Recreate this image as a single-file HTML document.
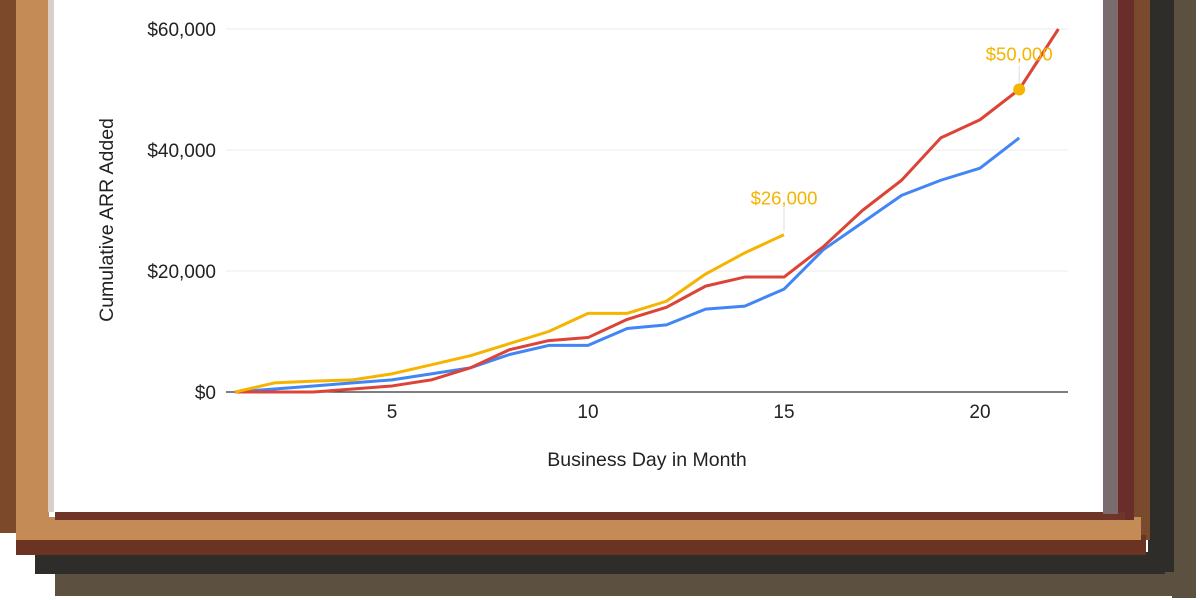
<!DOCTYPE html>
<html><head><meta charset="utf-8"><style>
body{margin:0;width:1200px;height:600px;overflow:hidden;background:#fff;font-family:"Liberation Sans",Arial,sans-serif}
.r{position:absolute}
</style></head><body>
<div class="r" style="left:1172px;top:0;width:24px;height:598px;background:#5c5040"></div>
<div class="r" style="left:1148px;top:0;width:26px;height:580px;background:#2f2d29"></div>
<div class="r" style="left:55px;top:572px;width:1125px;height:24px;background:#5c5040"></div>
<div class="r" style="left:35px;top:552px;width:1130px;height:22px;background:#2f2d29"></div>
<div class="r" style="left:1133px;top:0;width:17px;height:540px;background:#7a4a2c"></div>
<div class="r" style="left:16px;top:535px;width:1130px;height:20px;background:#6a3322"></div>
<div class="r" style="left:0;top:0;width:17px;height:533px;background:#7c4a2a"></div>
<div class="r" style="left:16px;top:0;width:33px;height:540px;background:#c48b57"></div>
<div class="r" style="left:36px;top:517px;width:1105px;height:23px;background:#c48b57"></div>
<div class="r" style="left:1117px;top:0;width:17px;height:520px;background:#6a2e2a"></div>
<div class="r" style="left:55px;top:512px;width:1070px;height:8px;background:#6e3528"></div>
<div class="r" style="left:1103px;top:0;width:15px;height:514px;background:#7a6b6d"></div>
<div class="r" style="left:48px;top:0;width:6px;height:512px;background:#d8d0c6"></div>
<div class="r" style="left:54px;top:0;width:1049px;height:512px;background:#fff"></div>
<svg class="r" style="left:0;top:0" width="1200" height="600">
<g id="grid"></g><g id="lines"></g><g id="ann"></g>
<text x="113" y="220" transform="rotate(-90 113 220)" text-anchor="middle" font-size="19.5" fill="#222">Cumulative ARR Added</text>
<text x="647" y="466" text-anchor="middle" font-size="19.5" fill="#222">Business Day in Month</text>
</svg>
<script>
const yTicks=[0,20000,40000,60000];
const yTickLabels=["$0","$20,000","$40,000","$60,000"];
const xTicks=[5,10,15,20];
const yellowVals=[0,1500,1800,2000,3000,4500,6000,8000,10000,13000,13000,15000,19500,23000,26000];
const redVals=[0,0,0,500,1000,2000,4000,7000,8500,9000,12000,14000,17500,19000,19000,24000,30000,35000,42000,45000,50000,60000];
const blueVals=[0,500,1000,1500,2000,3000,4000,6200,7700,7700,10500,11100,13700,14200,17000,23500,28000,32500,35000,37000,42000];
const ns="http://www.w3.org/2000/svg";
const X=d=>235.2+(d-1)*39.2, Y=v=>392-v*0.00605;
function mk(t,a,p){const e=document.createElementNS(ns,t);for(const k in a)e.setAttribute(k,a[k]);document.getElementById(p).appendChild(e);return e;}
yTicks.forEach((v,i)=>{
 if(v>0){const g=mk('line',{x1:226,x2:1068,y1:Y(v),y2:Y(v),stroke:'#ebebeb','stroke-width':1},'grid');
 
 }
 const t=mk('text',{x:216,y:Y(v)+7,'text-anchor':'end','font-size':19,fill:'#222'},'grid');t.textContent=yTickLabels[i];
 
 
});
xTicks.forEach(d=>{const t=mk('text',{x:X(d),y:418,'text-anchor':'middle','font-size':19,fill:'#222'},'grid');t.textContent=d;
 
 });
const ax=mk('line',{x1:226,x2:1068,y1:392,y2:392,stroke:'#333','stroke-width':1.2},'grid');


function series(vals,col,name){const p=mk('polyline',{points:vals.map((v,i)=>X(i+1)+','+Y(v)).join(' '),fill:'none',stroke:col,'stroke-width':3,'stroke-linejoin':'round'},'lines');
 
 }
series(blueVals,'#4285f4','series-blue');
series(redVals,'#db4437','series-red');
series(yellowVals,'#f4b400','series-yellow');
const yl=yellowVals.length, ylast=yellowVals[yl-1];
mk('line',{x1:X(yl),x2:X(yl),y1:Y(ylast)-4,y2:Y(ylast)-28,stroke:'#ddd'},'ann');
const a1=mk('text',{x:X(yl),y:Y(ylast)-30,'text-anchor':'middle','font-size':18.5,fill:'#f4b400'},'ann');a1.textContent='$26,000';


const d21=redVals[20];
mk('line',{x1:X(21),x2:X(21),y1:Y(d21)-4,y2:Y(d21)-24,stroke:'#ddd'},'ann');
const dot=mk('circle',{cx:X(21),cy:Y(d21),r:6,fill:'#f4b400'},'ann');


const a2=mk('text',{x:X(21),y:Y(d21)-29,'text-anchor':'middle','font-size':18.5,fill:'#f4b400'},'ann');a2.textContent='$50,000';


</script>
</body></html>
